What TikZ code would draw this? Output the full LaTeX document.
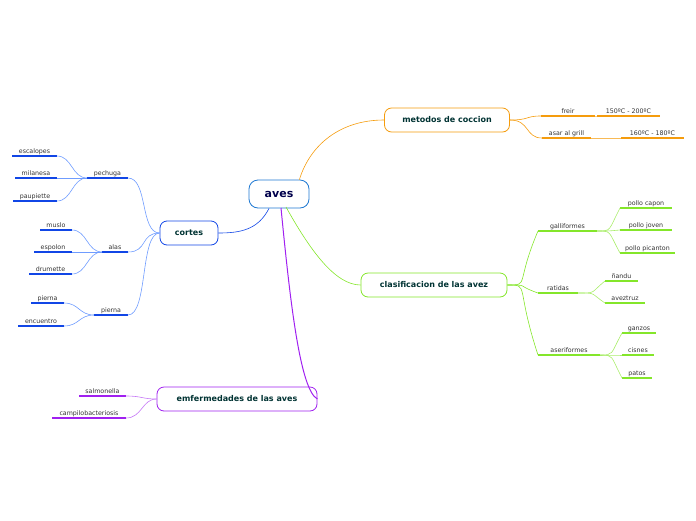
\documentclass[tikz,border=0pt]{standalone}
\usepackage{fontspec}
\setmainfont{DejaVu Sans}
\begin{document}
\begin{tikzpicture}[x=1pt,y=-1pt,
  lbl/.style={font=\fontsize{6.3}{7}\selectfont, text=black!80, inner sep=0pt, anchor=base},
  topic/.style={draw, rounded corners=7pt, line width=0.8pt, fill=white, font=\fontsize{8}{9}\bfseries\selectfont, text=teal!40!black, minimum height=24pt},
  ul/.style={line width=1.6pt},
  con/.style={line width=0.6pt}]
\useasboundingbox (0,0) rectangle (696,520);
\definecolor{cor}{HTML}{F59C0D}
\definecolor{cgr}{HTML}{84E62A}
\definecolor{cbl}{HTML}{1146E6}
\definecolor{clb}{HTML}{6F9CFF}
\definecolor{cpu}{HTML}{A020F0}
\definecolor{croot}{HTML}{1E78D2}
\newcommand{\leaf}[6]{%
  \coordinate (#1-l) at (#2,#4); \coordinate (#1-r) at (#3,#4);
  \draw[ul,#6] (#1-l) -- (#1-r);
  \node[lbl] (#1) at ({(#2+#3)/2},{#4-3}) {#5};}
% root
\node[topic, draw=croot, minimum width=60pt, minimum height=28pt, rounded corners=9pt, font=\fontsize{11}{12}\bfseries\selectfont, text=blue!30!black] (aves) at (279,194) {aves};
% metodos
\node[topic, draw=cor, minimum width=125pt] (met) at (447,120) {metodos de coccion};
\draw[con,cor] (aves.north east)++(-10,0) coordinate (a1) .. controls (310,145) and (340,120) .. (met.west);
\leaf{freir}{541}{595}{116}{freir}{cor}
\leaf{t150}{597}{660}{116}{150ºC - 200ºC}{cor}
\leaf{asar}{542}{591}{138}{asar al grill}{cor}
\leaf{t160}{621}{684}{138}{160ºC - 180ºC}{cor}
\draw[con,cor!50] (freir-r) -- (t150-l);
\draw[con,cor!70] (asar-r) -- (t160-l);
\draw[con,cor] (met.east) .. controls (530,120) and (525,116) .. (freir-l);
\draw[con,cor] (met.east) .. controls (530,120) and (525,138) .. (asar-l);
% clasificacion
\node[topic, draw=cgr, minimum width=146pt] (cla) at (434,285) {clasificacion de las avez};
\draw[con,cgr] (286,207) .. controls (310,250) and (335,285) .. (cla.west);
\leaf{gal}{538}{597}{231}{galliformes}{cgr}
\leaf{rat}{538}{578}{293}{ratidas}{cgr}
\leaf{ase}{538}{600}{355}{aseriformes}{cgr}
\foreach \n in {gal,rat,ase}{\draw[con,cgr] (cla.east) .. controls (530,285) and (515,285) .. (\n-l);}
\leaf{pc}{620}{672}{208}{pollo capon}{cgr}
\leaf{pj}{620}{672}{230}{pollo joven}{cgr}
\leaf{pp}{620}{675}{253}{pollo picanton}{cgr}
\leaf{nan}{605}{638}{281}{ñandu}{cgr}
\leaf{ave}{605}{645}{303}{aveztruz}{cgr}
\leaf{gan}{622}{656}{333}{ganzos}{cgr}
\leaf{cis}{622}{654}{355}{cisnes}{cgr}
\leaf{pat}{622}{652}{378}{patos}{cgr}
\foreach \n in {pc,pj,pp}{\draw[con,cgr!70] (gal-r) .. controls (612,231) and (608,231) .. (\n-l);}
\foreach \n in {nan,ave}{\draw[con,cgr!70] (rat-r) .. controls (597,293) and (590,293) .. (\n-l);}
\foreach \n in {gan,cis,pat}{\draw[con,cgr!70] (ase-r) .. controls (614,355) and (610,355) .. (\n-l);}
% cortes
\node[topic, draw=cbl, minimum width=58pt] (cor) at (189,233) {cortes};
\draw[con,cbl] (aves.south) ++(-10,0) .. controls (258,230) and (240,233) .. (cor.east);
\leaf{pec}{87}{128}{178}{pechuga}{cbl}
\leaf{ala}{102}{128}{252}{alas}{cbl}
\leaf{pie}{94}{128}{315}{pierna}{cbl}
\foreach \n/\y in {pec/178,ala/252,pie/315}{\draw[con,clb] (cor.west) .. controls (140,233) and (148,\y) .. (\n-r);}
\leaf{esc}{12}{57}{156}{escalopes}{cbl}
\leaf{mil}{15}{57}{178}{milanesa}{cbl}
\leaf{pau}{13}{57}{201}{paupiette}{cbl}
\leaf{mus}{40}{72}{230}{muslo}{cbl}
\leaf{esp}{34}{72}{252}{espolon}{cbl}
\leaf{dru}{29}{72}{274}{drumette}{cbl}
\leaf{pi2}{31}{64}{303}{pierna}{cbl}
\leaf{enc}{18}{64}{326}{encuentro}{cbl}
\foreach \n/\y in {esc/156,mil/178,pau/201}{\draw[con,clb] (pec-l) .. controls (72,178) and (72,\y) .. (\n-r);}
\foreach \n/\y in {mus/230,esp/252,dru/274}{\draw[con,clb] (ala-l) .. controls (87,252) and (87,\y) .. (\n-r);}
\foreach \n/\y in {pi2/303,enc/326}{\draw[con,clb] (pie-l) .. controls (79,315) and (79,\y) .. (\n-r);}
% emfermedades
\node[topic, draw=cpu, minimum width=160pt] (emf) at (237,399) {emfermedades de las aves};
\draw[con,cpu,line width=1pt] (281,208) .. controls (290,300) and (300,390) .. (emf.east);
\leaf{sal}{79}{126}{396}{salmonella}{cpu}
\leaf{cam}{52}{126}{418}{campilobacteriosis}{cpu}
\foreach \n/\y in {sal/396,cam/418}{\draw[con,cpu!60] (emf.west) .. controls (142,399) and (142,\y) .. (\n-r);}
\end{tikzpicture}
\end{document}
